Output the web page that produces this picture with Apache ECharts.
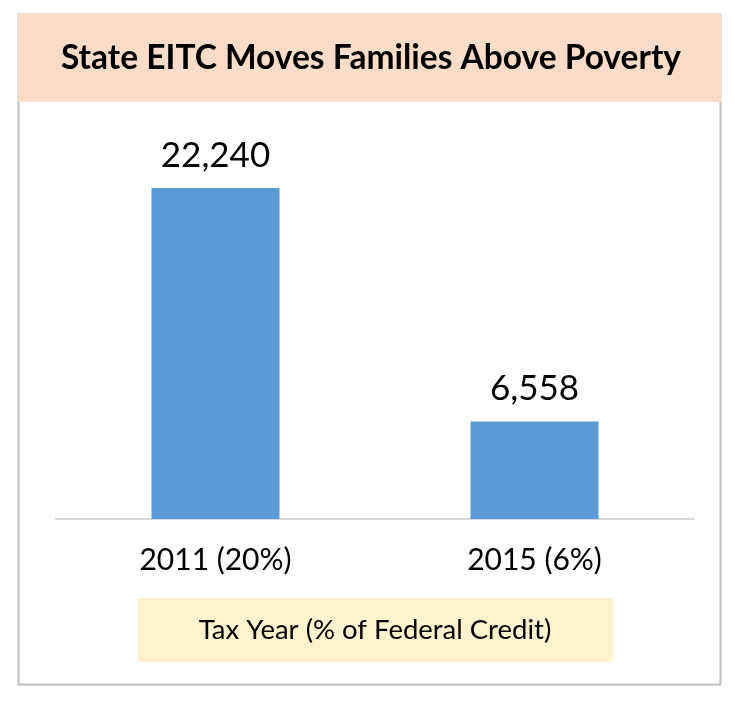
<!DOCTYPE html>
<html>
<head>
<meta charset="utf-8">
<script src="https://cdn.jsdelivr.net/npm/echarts@6/dist/echarts.min.js"></script>
<style>
html, body { margin: 0; padding: 0; background: #fff; }
#chart { width: 742px; height: 704px; }
</style>
</head>
<body>
<div id="chart"></div>
<script>
// 数据
var taxYears = ['2011 (20%)', '2015 (6%)'];
var familiesMoved = [22240, 6558];

var font = 'Lato';
var dom = document.getElementById('chart');
var myChart = echarts.init(dom);

var option = {
    animation: false,
    title: {
        text: 'State EITC Moves Families Above Poverty',
        left: 'center',
        top: 36,
        textStyle: {
            fontFamily: font,
            fontWeight: 'bold',
            fontSize: 33.5,
            color: '#000'
        }
    },
    graphic: [
        {
            type: 'rect',
            z: -10,
            shape: { x: 18.5, y: 14.5, width: 702, height: 670 },
            style: { fill: '#fff', stroke: '#BFBFBF', lineWidth: 2 }
        },
        {
            type: 'rect',
            z: -9,
            shape: { x: 18, y: 14, width: 703, height: 88 },
            style: { fill: '#FBDCC8' }
        },
        {
            type: 'rect',
            z: -9,
            shape: { x: 138, y: 598, width: 475, height: 64 },
            style: { fill: '#FFF2CC' }
        }
    ],
    grid: {
        left: 56,
        right: 48,
        top: 147,
        bottom: 185
    },
    xAxis: {
        type: 'category',
        data: taxYears,
        name: 'Tax Year (% of Federal Credit)',
        nameLocation: 'middle',
        nameGap: 97,
        nameTextStyle: {
            fontFamily: font,
            fontSize: 27.5,
            color: '#000'
        },
        axisLine: { lineStyle: { color: '#D9D9D9', width: 2 } },
        axisTick: { show: false },
        axisLabel: {
            margin: 26,
            fontFamily: font,
            fontSize: 30,
            color: '#000'
        }
    },
    yAxis: {
        type: 'value',
        min: 0,
        max: 25000,
        show: false,
        splitLine: { show: false }
    },
    series: [
        {
            type: 'bar',
            data: familiesMoved,
            barWidth: 128,
            itemStyle: { color: '#5B9BD5' },
            label: {
                show: true,
                position: 'top',
                distance: 15,
                fontFamily: font,
                fontSize: 35,
                color: '#000',
                formatter: function (p) {
                    return p.value.toLocaleString('en-US');
                }
            }
        }
    ]
};

myChart.setOption(option);
</script>
</body>
</html>
